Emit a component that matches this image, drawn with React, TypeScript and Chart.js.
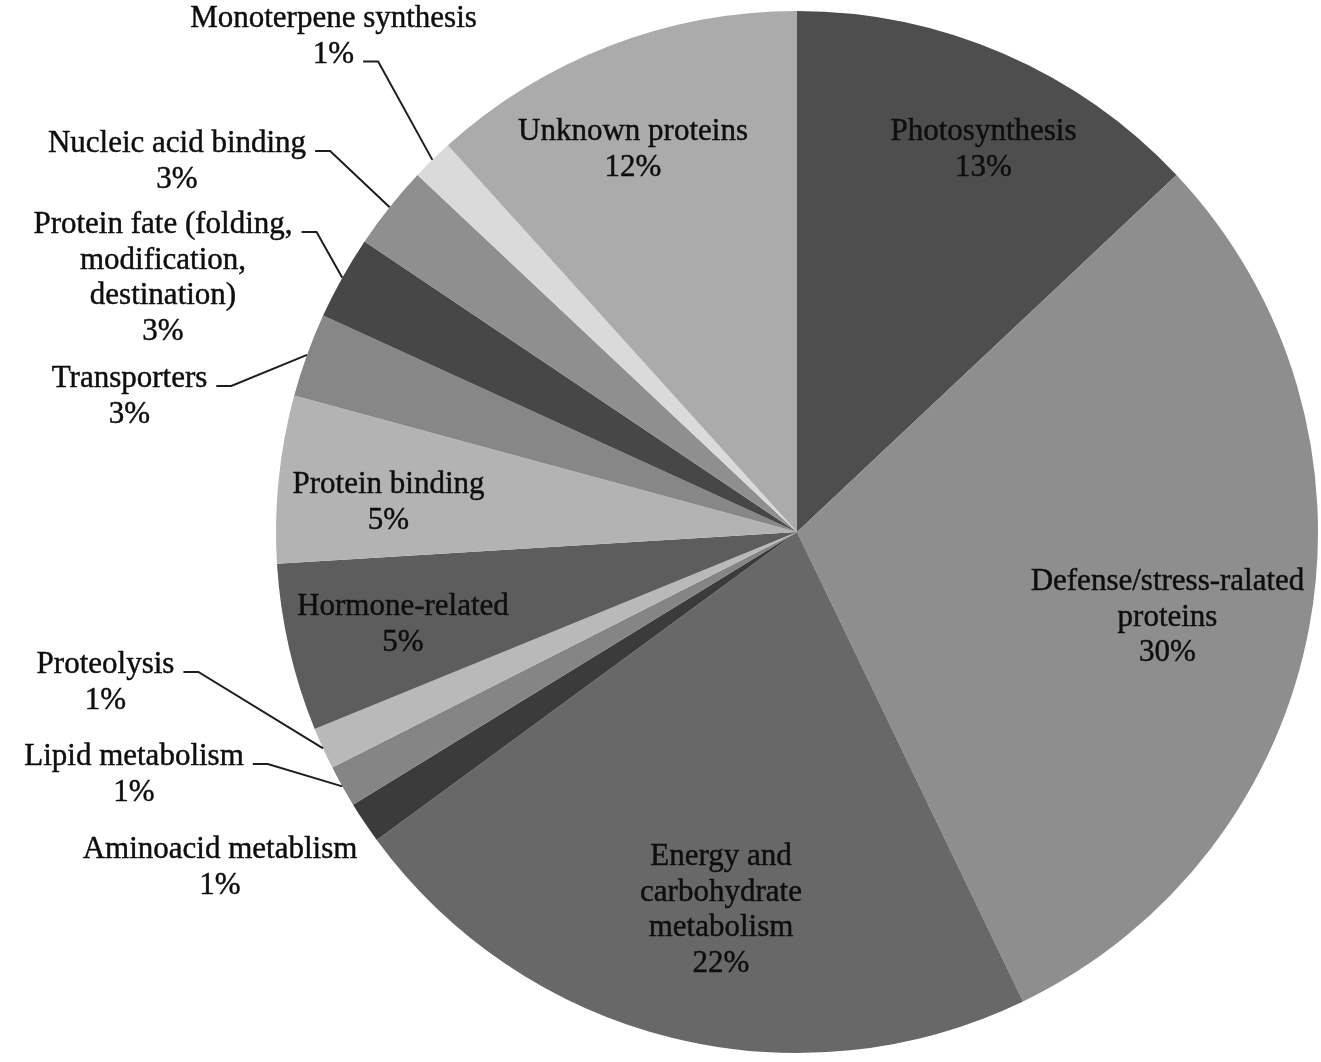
import React, { useEffect, useRef } from "react";
import { Chart, registerables } from "chart.js";

Chart.register(...registerables);

// Categories, clockwise from 12 o'clock
const CATEGORIES = [
  "Photosynthesis",
  "Defense/stress-ralated proteins",
  "Energy and carbohydrate metabolism",
  "Aminoacid metablism",
  "Lipid metabolism",
  "Proteolysis",
  "Hormone-related",
  "Protein binding",
  "Transporters",
  "Protein fate (folding, modification, destination)",
  "Nucleic acid binding",
  "Monoterpene synthesis",
  "Unknown proteins",
];

// Number of proteins per category
const COUNTS = [10, 23, 17, 1, 1, 1, 4, 4, 2, 2, 2, 1, 9];

// Percent labels as printed
const PERCENT_LABELS = ["13%", "30%", "22%", "1%", "1%", "1%", "5%", "5%", "3%", "3%", "3%", "1%", "12%"];

// Label text broken into lines
const LABEL_LINES = [
  ["Photosynthesis"],
  ["Defense/stress-ralated", "proteins"],
  ["Energy and", "carbohydrate", "metabolism"],
  ["Aminoacid metablism"],
  ["Lipid metabolism"],
  ["Proteolysis"],
  ["Hormone-related"],
  ["Protein binding"],
  ["Transporters"],
  ["Protein fate (folding,", "modification,", "destination)"],
  ["Nucleic acid binding"],
  ["Monoterpene synthesis"],
  ["Unknown proteins"],
];

const COLORS = [
  "#4e4e4e",
  "#8e8e8e",
  "#686868",
  "#3b3b3b",
  "#858585",
  "#b9b9b9",
  "#5d5d5d",
  "#b3b3b3",
  "#878787",
  "#474747",
  "#8f8f8f",
  "#dadada",
  "#ababab",
];

// Label layout: offset of text centre x and first baseline y from pie centre,
// and the line index where a leader line starts (-1 = none)
const LABEL_LAYOUT: { dx: number; dy: number; leader: number }[] = [
  { dx: 186.5, dy: -392, leader: -1 },
  { dx: 370.5, dy: 58, leader: -1 },
  { dx: -76, dy: 333, leader: -1 },
  { dx: -577, dy: 326, leader: -1 },
  { dx: -663, dy: 233, leader: 0 },
  { dx: -691.5, dy: 141, leader: 0 },
  { dx: -394, dy: 83, leader: -1 },
  { dx: -408.5, dy: -39, leader: -1 },
  { dx: -667.5, dy: -145, leader: 0 },
  { dx: -634, dy: -299, leader: 0 },
  { dx: -620, dy: -380, leader: 0 },
  { dx: -463.5, dy: -505, leader: 1 },
  { dx: -164, dy: -392, leader: -1 },
];

const FONT = "31px 'Liberation Serif', 'Times New Roman', serif";
const LINE_HEIGHT = 35.5;
const TEXT_COLOR = "#0e0e0e";

const labelPlugin = {
  id: "pieLabels",
  afterDatasetsDraw(chart: any) {
    const ctx = chart.ctx as CanvasRenderingContext2D;
    const meta = chart.getDatasetMeta(0);
    ctx.save();
    ctx.font = FONT;
    ctx.fillStyle = TEXT_COLOR;
    ctx.textAlign = "center";
    ctx.textBaseline = "alphabetic";
    meta.data.forEach((arc: any, i: number) => {
      const { x, y, startAngle, endAngle, outerRadius } = arc.getProps(
        ["x", "y", "startAngle", "endAngle", "outerRadius"],
        true
      );
      const layout = LABEL_LAYOUT[i];
      const lines = [...LABEL_LINES[i], PERCENT_LABELS[i]];
      const cx = x + layout.dx;
      const by = y + layout.dy;
      lines.forEach((t, k) => {
        ctx.fillText(t, cx, by + k * LINE_HEIGHT);
        ctx.lineWidth = 0.45;
        ctx.strokeStyle = TEXT_COLOR;
        ctx.strokeText(t, cx, by + k * LINE_HEIGHT);
      });
      if (layout.leader >= 0) {
        const t = lines[layout.leader];
        const w = ctx.measureText(t).width;
        const sx = cx + w / 2 + 9;
        const sy = by + layout.leader * LINE_HEIGHT - 1;
        const mid = (startAngle + endAngle) / 2;
        const ex = x + outerRadius * Math.cos(mid);
        const ey = y + outerRadius * Math.sin(mid);
        ctx.beginPath();
        ctx.strokeStyle = "#1e1e1e";
        ctx.lineWidth = 2;
        ctx.moveTo(sx, sy);
        ctx.lineTo(sx + 15, sy);
        ctx.lineTo(ex, ey);
        ctx.stroke();
      }
    });
    ctx.restore();
  },
};

export default function App() {
  const canvasRef = useRef<HTMLCanvasElement | null>(null);

  useEffect(() => {
    document.body.style.margin = "0";
    const canvas = canvasRef.current;
    if (!canvas) return;
    const chart = new Chart(canvas, {
      type: "pie",
      data: {
        labels: CATEGORIES,
        datasets: [
          {
            data: COUNTS,
            backgroundColor: COLORS,
            borderWidth: 0,
            hoverBorderWidth: 0,
            hoverOffset: 0,
            offset: 0,
          },
        ],
      },
      options: {
        responsive: false,
        animation: false,
        events: [],
        layout: { padding: { left: 276, right: 3, top: 11, bottom: 9 } },
        plugins: {
          legend: { display: false },
          tooltip: { enabled: false },
        },
      },
      plugins: [labelPlugin],
    });
    return () => chart.destroy();
  }, []);

  return (
    <div style={{ width: 1321, height: 1062, background: "#fff" }}>
      <canvas ref={canvasRef} width={1321} height={1062} style={{ width: 1321, height: 1062, display: "block" }} />
    </div>
  );
}
